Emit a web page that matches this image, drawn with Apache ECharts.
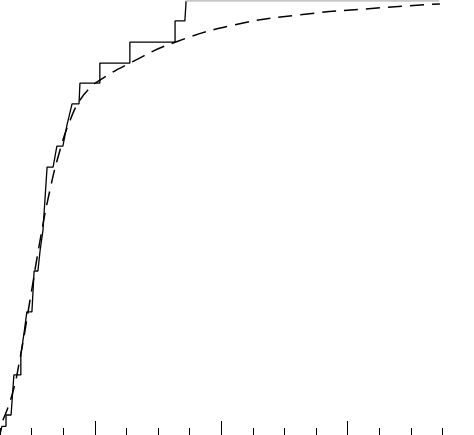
<!DOCTYPE html>
<html lang="en">
<head>
  <meta charset="UTF-8">
  <title>ecdf chart</title>
  <style>
    html, body { margin: 0; padding: 0; background: #fff; }
    #chart { width: 474px; height: 435px; }
  </style>
</head>
<body>
  <div id="chart"></div>
  <script src="https://cdn.jsdelivr.net/npm/echarts@6/dist/echarts.min.js"></script>
  <script>
    // empirical step function (x, y) vertices
    var stepPoints = [
      [0, 0], [0.06, 0.02], [0.19, 0.02], [0.19, 0.046], [0.35, 0.046], [0.44, 0.138],
      [0.66, 0.138], [0.66, 0.184], [0.76, 0.234], [0.85, 0.283], [1.01, 0.283],
      [1.08, 0.377], [1.20, 0.377], [1.27, 0.425], [1.36, 0.471], [1.49, 0.616],
      [1.68, 0.616], [1.80, 0.664], [1.99, 0.664], [2.12, 0.713], [2.15, 0.713],
      [2.28, 0.761], [2.50, 0.761], [2.53, 0.809], [3.16, 0.809], [3.16, 0.855],
      [4.11, 0.855], [4.11, 0.903], [5.54, 0.903], [5.54, 0.952], [5.85, 0.952],
      [5.89, 0.998]
    ]
    var topPoints = [[5.89, 0.998], [13.9, 0.998]]
    // fitted curve
    var fitPoints = [
      [0.09, 0.034], [0.38, 0.092], [0.63, 0.175], [0.95, 0.31], [1.27, 0.448],
      [1.58, 0.563], [1.90, 0.655], [2.22, 0.724], [2.53, 0.770], [2.85, 0.798],
      [3.16, 0.816], [4.11, 0.855], [5.54, 0.903], [7.44, 0.943], [9.49, 0.966],
      [12.03, 0.982], [13.92, 0.991]
    ]
    var majorTicks = [3, 7, 11]

    var chart = echarts.init(document.getElementById('chart'))
    chart.setOption({
      animation: false,
      grid: { left: 0, right: 0, top: 0, bottom: 0 },
      xAxis: [
        {
          type: 'value', min: 0, max: 15, interval: 1,
          axisLine: { show: false },
          axisTick: { show: true, inside: true, length: 7, lineStyle: { color: '#000' } },
          axisLabel: { show: false },
          splitLine: { show: false }
        },
        {
          type: 'value', min: 0, max: 15, position: 'bottom',
          axisLine: { show: false },
          axisTick: { show: true, inside: true, length: 14, customValues: majorTicks, lineStyle: { color: '#000' } },
          axisLabel: { show: false },
          splitLine: { show: false }
        }
      ],
      yAxis: {
        type: 'value', min: 0, max: 1,
        axisLine: { show: false },
        axisTick: { show: false },
        axisLabel: { show: false },
        splitLine: { show: false }
      },
      series: [
        {
          type: 'line', data: stepPoints, showSymbol: false,
          lineStyle: { color: '#000', width: 1.3 }
        },
        {
          type: 'line', data: topPoints, showSymbol: false,
          lineStyle: { color: '#c8c8c8', width: 2 }
        },
        {
          type: 'line', data: fitPoints, showSymbol: false, smooth: true,
          lineStyle: { color: '#000', width: 1.5, type: [14, 8] }
        }
      ]
    })
  </script>
</body>
</html>
